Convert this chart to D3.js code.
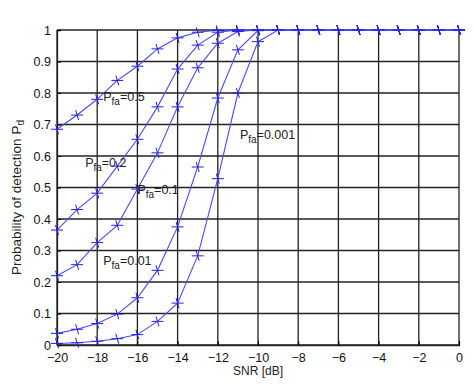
<!DOCTYPE html>
<html>
<head>
<meta charset="utf-8">
<script src="https://cdn.jsdelivr.net/npm/d3@7"></script>
<style>
  body { margin: 0; background: #fff; }
  text { font-family: "Liberation Sans", Arial, sans-serif; }
</style>
</head>
<body>
<div id="chart"></div>
<script>
// SNR values in dB, one marker per dB
var snr = d3.range(-20, 1);
// detection probability for each false alarm rate
var pd05   = [0.685, 0.73, 0.78, 0.84, 0.885, 0.94, 0.975, 0.993, 0.999, 1, 1, 1, 1, 1, 1, 1, 1, 1, 1, 1, 1];
var pd02   = [0.365, 0.43, 0.482, 0.568, 0.653, 0.756, 0.876, 0.952, 0.993, 1, 1, 1, 1, 1, 1, 1, 1, 1, 1, 1, 1];
var pd01   = [0.22, 0.255, 0.325, 0.38, 0.495, 0.61, 0.756, 0.88, 0.958, 0.995, 1, 1, 1, 1, 1, 1, 1, 1, 1, 1, 1];
var pd001  = [0.037, 0.05, 0.068, 0.098, 0.15, 0.237, 0.375, 0.565, 0.784, 0.937, 0.998, 1, 1, 1, 1, 1, 1, 1, 1, 1, 1];
var pd0001 = [0.005, 0.007, 0.012, 0.02, 0.033, 0.075, 0.133, 0.283, 0.528, 0.8, 0.963, 1, 1, 1, 1, 1, 1, 1, 1, 1, 1];
var series = [pd05, pd02, pd01, pd001, pd0001];
var labels = ["0.5", "0.2", "0.1", "0.01", "0.001"];
// label anchor points (snr, pd)
var labelPos = [[-17.7, 0.775], [-18.6, 0.565], [-16, 0.48], [-17.7, 0.255], [-10.9, 0.655]];
var xTicks = d3.range(-20, 1, 2);
var yTicks = d3.range(0, 11).map(function(d) { return d / 10; });

var margin = {top: 30, right: 15, bottom: 41, left: 57},
    width = 474 - margin.left - margin.right,
    height = 386 - margin.top - margin.bottom;

var svg = d3.select("#chart")
  .append("svg")
    .attr("width", 474)
    .attr("height", 386)
  .append("g")
    .attr("transform", "translate(" + margin.left + "," + margin.top + ")");

var x = d3.scaleLinear().domain([-20, 0]).range([0, width]);
var y = d3.scaleLinear().domain([0, 1]).range([height, 0]);

// grid
svg.append("g")
  .selectAll("line")
  .data(xTicks)
  .enter().append("line")
    .attr("x1", function(d) { return x(d); })
    .attr("x2", function(d) { return x(d); })
    .attr("y1", 0).attr("y2", height)
    .attr("stroke", "#222").attr("stroke-width", 1.3);
svg.append("g")
  .selectAll("line")
  .data(yTicks)
  .enter().append("line")
    .attr("y1", function(d) { return y(d); })
    .attr("y2", function(d) { return y(d); })
    .attr("x1", 0).attr("x2", width)
    .attr("stroke", "#222").attr("stroke-width", 1.3);

// axes
svg.append("g")
  .attr("transform", "translate(0," + height + ")")
  .call(d3.axisBottom(x).tickValues(xTicks).tickSize(-4).tickPadding(8))
  .call(function(g) {
    g.select(".domain").attr("stroke", "#222").attr("stroke-width", 1.3);
    g.selectAll("text").attr("font-size", 12.5).attr("fill", "#111");
  });
svg.append("g")
  .call(d3.axisLeft(y).tickValues(yTicks).tickSize(-4).tickPadding(6).tickFormat(d3.format("~g")))
  .call(function(g) {
    g.select(".domain").attr("stroke", "#222").attr("stroke-width", 1.3);
    g.selectAll("text").attr("font-size", 12.5).attr("fill", "#111");
  });

// curves
var line = d3.line()
  .x(function(d, i) { return x(snr[i]); })
  .y(function(d) { return y(d); });

series.forEach(function(s) {
  svg.append("path")
    .datum(s)
    .attr("fill", "none")
    .attr("stroke", "#4a4aff")
    .attr("stroke-width", 1.1)
    .attr("d", line);

  var m = svg.append("g").selectAll("g")
    .data(s)
    .enter().append("g")
      .attr("transform", function(d, i) { return "translate(" + x(snr[i]) + "," + y(d) + ")"; });
  m.append("line").attr("x1", -6).attr("x2", 6).attr("y1", 0).attr("y2", 0)
    .attr("stroke", "#2020e0").attr("stroke-width", 1);
  m.append("line").attr("x1", -1.5).attr("x2", 1.5).attr("y1", -5).attr("y2", 5)
    .attr("stroke", "#2020e0").attr("stroke-width", 1);
});

// labels
labels.forEach(function(l, i) {
  var t = svg.append("text")
    .attr("x", x(labelPos[i][0]))
    .attr("y", y(labelPos[i][1]))
    .attr("font-size", 12.5)
    .attr("fill", "#222");
  t.append("tspan").text("P");
  t.append("tspan").attr("font-size", 10).attr("dy", 4).text("fa");
  t.append("tspan").attr("dy", -4).text("=" + l);
});

// axis titles
svg.append("text")
  .attr("x", width / 2)
  .attr("y", height + 30)
  .attr("text-anchor", "middle")
  .attr("font-size", 12)
  .attr("fill", "#222")
  .text("SNR [dB]");

var yl = svg.append("text")
  .attr("transform", "translate(" + (-36) + "," + (height / 2 + 10) + ") rotate(-90)")
  .attr("text-anchor", "middle")
  .attr("font-size", 13.5)
  .attr("fill", "#222");
yl.append("tspan").text("Probability of detection  P");
yl.append("tspan").attr("font-size", 10).attr("dy", 3).text("d");
</script>
</body>
</html>
